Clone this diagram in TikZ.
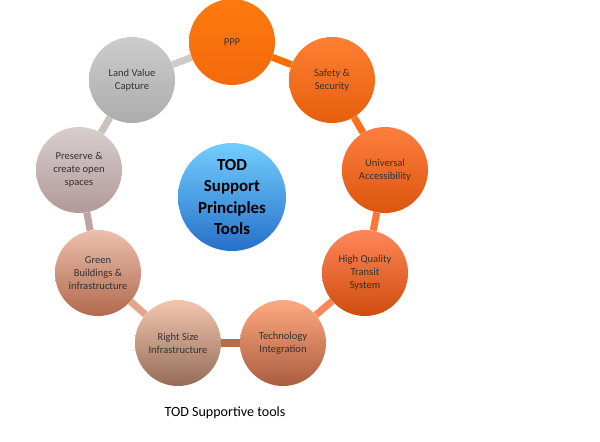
\documentclass[tikz,border=0pt]{standalone}
\usepackage{fontspec}
\setmainfont{Carlito}
\usetikzlibrary{backgrounds}

\begin{document}
\begin{tikzpicture}
		[x=0.03cm,y=-0.03cm,
		tool node/.style={shape=circle,minimum size=86*0.03cm,inner sep=0pt,align=center,
			font=\small,text=black!80},
		hub node/.style={shape=circle,minimum size=108*0.03cm,inner sep=0pt,align=center,
			font=\Large\bfseries,top color=blue!35!cyan!55!white,bottom color=blue!55!cyan!75!black!85},
		ring/.style={line width=6pt}
		]
		\useasboundingbox (0,0) rectangle (600,441);
		
		\node [tool node,top color=orange!90!red!95!white,bottom color=orange!80!red!95!black!95] (ppp) at (232,42) {PPP};
		\node [tool node,top color=orange!75!red!80!white,bottom color=orange!75!red!90!black!95] (safe) at (332,80) {Safety \&\\Security};
		\node [tool node,top color=orange!65!red!75!white,bottom color=orange!70!red!85!black!95] (univ) at (385,170) {Universal\\Accessibility};
		\node [tool node,top color=orange!55!red!65!white,bottom color=orange!65!red!80!black!95] (high) at (365,273) {High Quality\\Transit\\System};
		\node [tool node,top color=red!35!orange!50!white,bottom color=red!45!orange!55!black!75] (tech) at (283,343) {Technology\\Integration};
		\node [tool node,top color=red!30!orange!30!white!90!gray,bottom color=red!35!orange!35!black!65] (right) at (178,343) {Right Size\\Infrastructure};
		\node [tool node,top color=red!25!brown!40!white,bottom color=red!30!brown!60!gray] (green) at (98,273) {Green\\Buildings \&\\infrastructure};
		\node [tool node,top color=red!10!gray!35!white,bottom color=red!15!gray!70] (pres) at (79,170) {Preserve \&\\create open\\spaces};
		\node [tool node,top color=gray!40,bottom color=gray!65] (land) at (132,80) {Land Value\\Capture};
		
		\node [hub node] (hub) at (232,197) {TOD\\Support\\Principles\\Tools};
		
		\node [font=\large] (title) at (225,413) {TOD Supportive tools};
		
		\begin{scope}[on background layer]
		\draw[ring,orange!85!red] (ppp) -- (safe);
		\draw[ring,orange!75!red!90!white] (safe) -- (univ);
		\draw[ring,orange!65!red!80!white] (univ) -- (high);
		\draw[ring,red!45!orange!65!white] (high) -- (tech);
		\draw[ring,red!35!orange!40!gray] (tech) -- (right);
		\draw[ring,red!30!brown!55!white] (right) -- (green);
		\draw[ring,red!20!gray!60] (green) -- (pres);
		\draw[ring,red!10!gray!45] (pres) -- (land);
		\draw[ring,gray!40] (land) -- (ppp);
		\end{scope}
		
		\end{tikzpicture}
\end{document}
